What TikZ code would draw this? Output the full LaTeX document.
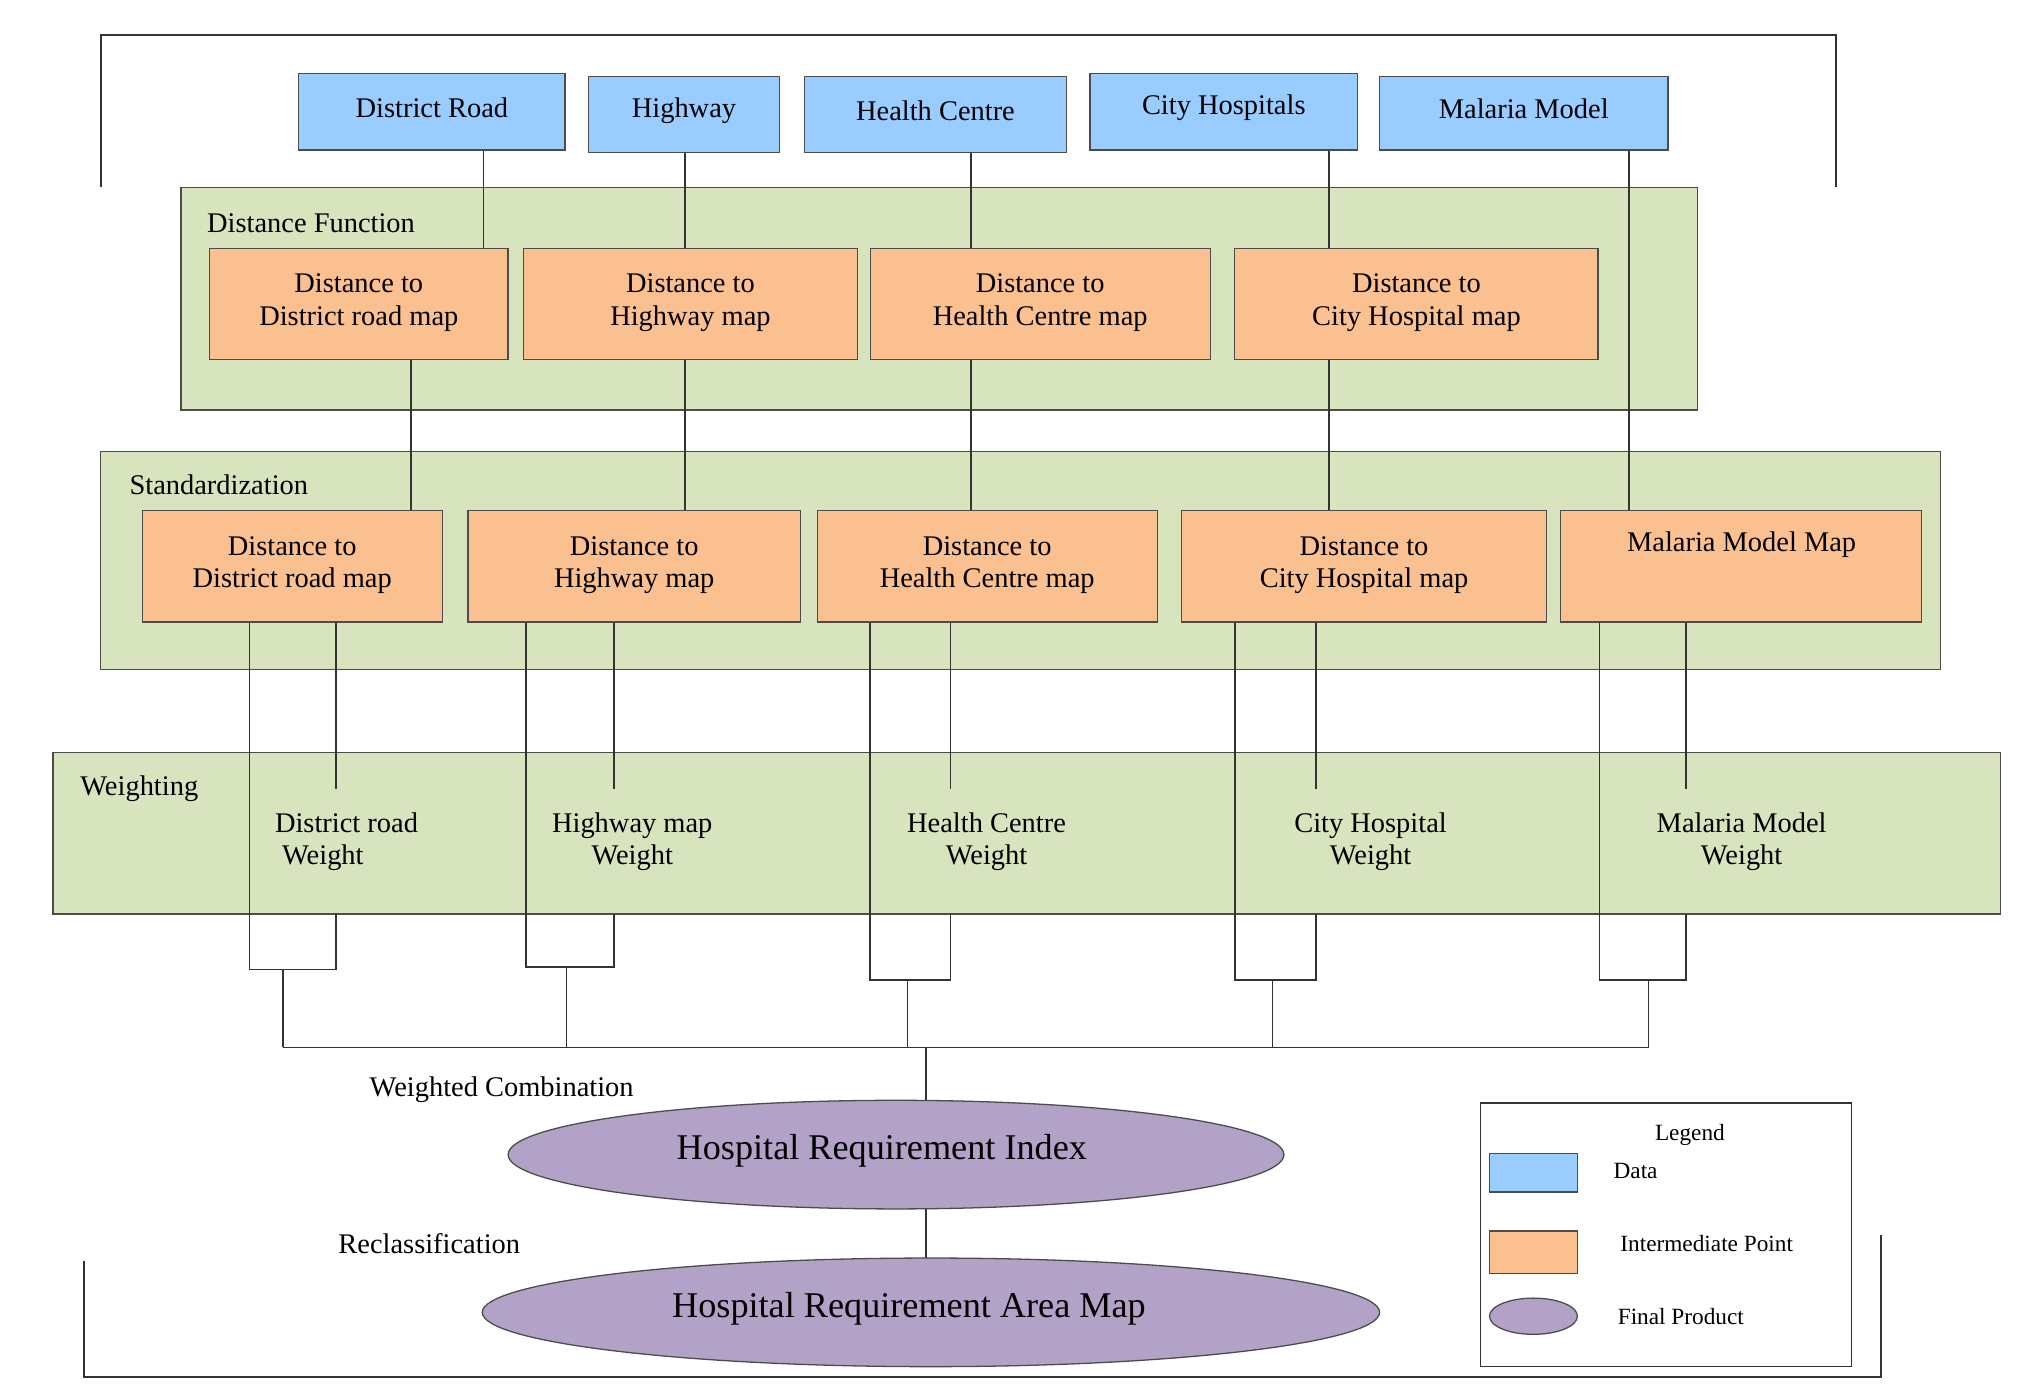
\documentclass[tikz,border=0pt]{standalone}
\usepackage{fontspec}
\setmainfont{Liberation Serif}
\begin{document}
\begin{tikzpicture}[x=1pt,y=-1pt,
 font=\fontsize{22}{25}\selectfont,
 blue/.style={draw=black!70,fill=cyan!30!blue!30!white,line width=1pt},
 org/.style={draw=black!70,fill=orange!45!white,line width=1pt},
 grn/.style={draw=black!70,fill=green!25!olive!20!white,line width=1pt},
 ell/.style={draw=black!70,fill=violet!40!white,line width=1pt},
 ln/.style={draw=black!80,line width=1.2pt},
 txt/.style={align=center,inner sep=0pt}]
\useasboundingbox (0,0) rectangle (1560,1070);
\definecolor{bl}{HTML}{99CCFF}\definecolor{or}{HTML}{FAC090}\definecolor{gr}{HTML}{D7E4BD}\definecolor{pu}{HTML}{B3A2C7}
\tikzset{blue/.append style={fill=bl},org/.append style={fill=or},grn/.append style={fill=gr},ell/.append style={fill=pu}}
% brackets
\draw[ln] (78,145) -- (78,27) -- (1420,27) -- (1420,145);
\draw[ln] (65,975) -- (65,1065) -- (1455,1065) -- (1455,955);
% green panels
\draw[grn] (140,145) rectangle (1313,317);
\draw[grn] (78,349) rectangle (1501,518);
\draw[grn] (41,582) rectangle (1547,707);
% connectors (behind boxes)
\foreach \x/\a/\b in {374/116/192,530/118/192,751/118/192,1028/116/192,1260/116/395,318/278/395,530/278/395,751/278/395,1028/278/395}
 \draw[ln] (\x,\a) -- (\x,\b);
\foreach \l/\r/\m/\yb in {193/260/219/750,407/475/438/748,673/735/702/758,955/1018/984/758,1237/1304/1275/758}{
 \draw[ln] (\l,481) -- (\l,\yb) -- (\r,\yb) -- (\r,707);
 \draw[ln] (\r,481) -- (\r,610);
 \draw[ln] (\m,\yb) -- (\m,810);}
\draw[ln] (219,810) -- (1275,810);
\draw[ln] (716,810) -- (716,853);
\draw[ln] (716,935) -- (716,975);
% blue
\foreach \a/\b/\c/\d/\t in {231/57/437/116/District Road,455/59/603/118/Highway,622/59/825/118/Health Centre,843/57/1050/116/City Hospitals,1067/59/1290/116/Malaria Model}
 {\draw[blue] (\a,\b) rectangle (\c,\d); \node[txt] at ({(\a+\c)/2},{(\b+\d)/2-3}) {\t};}
% orange top
\foreach \a/\c/\t in {162/393/District road map,405/663/Highway map,673/936/Health Centre map,955/1236/City Hospital map}
 {\draw[org] (\a,192) rectangle (\c,278); \node[txt] at ({(\a+\c)/2},234) {Distance to\\\t};}
\foreach \a/\c/\t in {110/342/District road map,362/619/Highway map,632/895/Health Centre map,914/1196/City Hospital map}
 {\draw[org] (\a,395) rectangle (\c,481); \node[txt] at ({(\a+\c)/2},437) {Distance to\\\t};}
\draw[org] (1207,395) rectangle (1486,481); \node[txt] at (1347,421) {Malaria Model Map};
% labels
\node[txt,anchor=west] at (160,173) {Distance Function};
\node[txt,anchor=west] at (100,375) {Standardization};
\node[txt,anchor=west] at (62,610) {Weighting};
\node[txt,align=left] at (268,651) {District road\\ \ Weight};
\node[txt] at (489,651) {Highway map\\Weight};
\node[txt] at (763,651) {Health Centre\\Weight};
\node[txt] at (1060,651) {City Hospital\\Weight};
\node[txt] at (1347,651) {Malaria Model\\Weight};
\node[txt] at (388,843) {Weighted Combination};
\node[txt] at (332,962) {Reclassification};
% ellipses
\draw[ell] (693,893) ellipse [x radius=300,y radius=42];
\node[txt,font=\fontsize{28}{32}\selectfont] at (682,890) {Hospital Requirement Index};
\draw[ell] (720,1015) ellipse [x radius=347,y radius=42];
\node[txt,font=\fontsize{28}{32}\selectfont] at (703,1012) {Hospital Requirement Area Map};
% legend
\draw[line width=1pt,black!80,fill=white] (1145,853) rectangle (1432,1057);
\begin{scope}[font=\fontsize{18}{21}\selectfont]
\node[txt] at (1307,878) {Legend};
\draw[blue] (1152,892) rectangle (1220,922); \node[txt] at (1265,906) {Data};
\draw[org] (1152,952) rectangle (1220,985); \node[txt] at (1320,962) {Intermediate Point};
\draw[ell] (1186,1018) ellipse [x radius=34,y radius=14]; \node[txt] at (1300,1018) {Final Product};
\end{scope}
\end{tikzpicture}
\end{document}
